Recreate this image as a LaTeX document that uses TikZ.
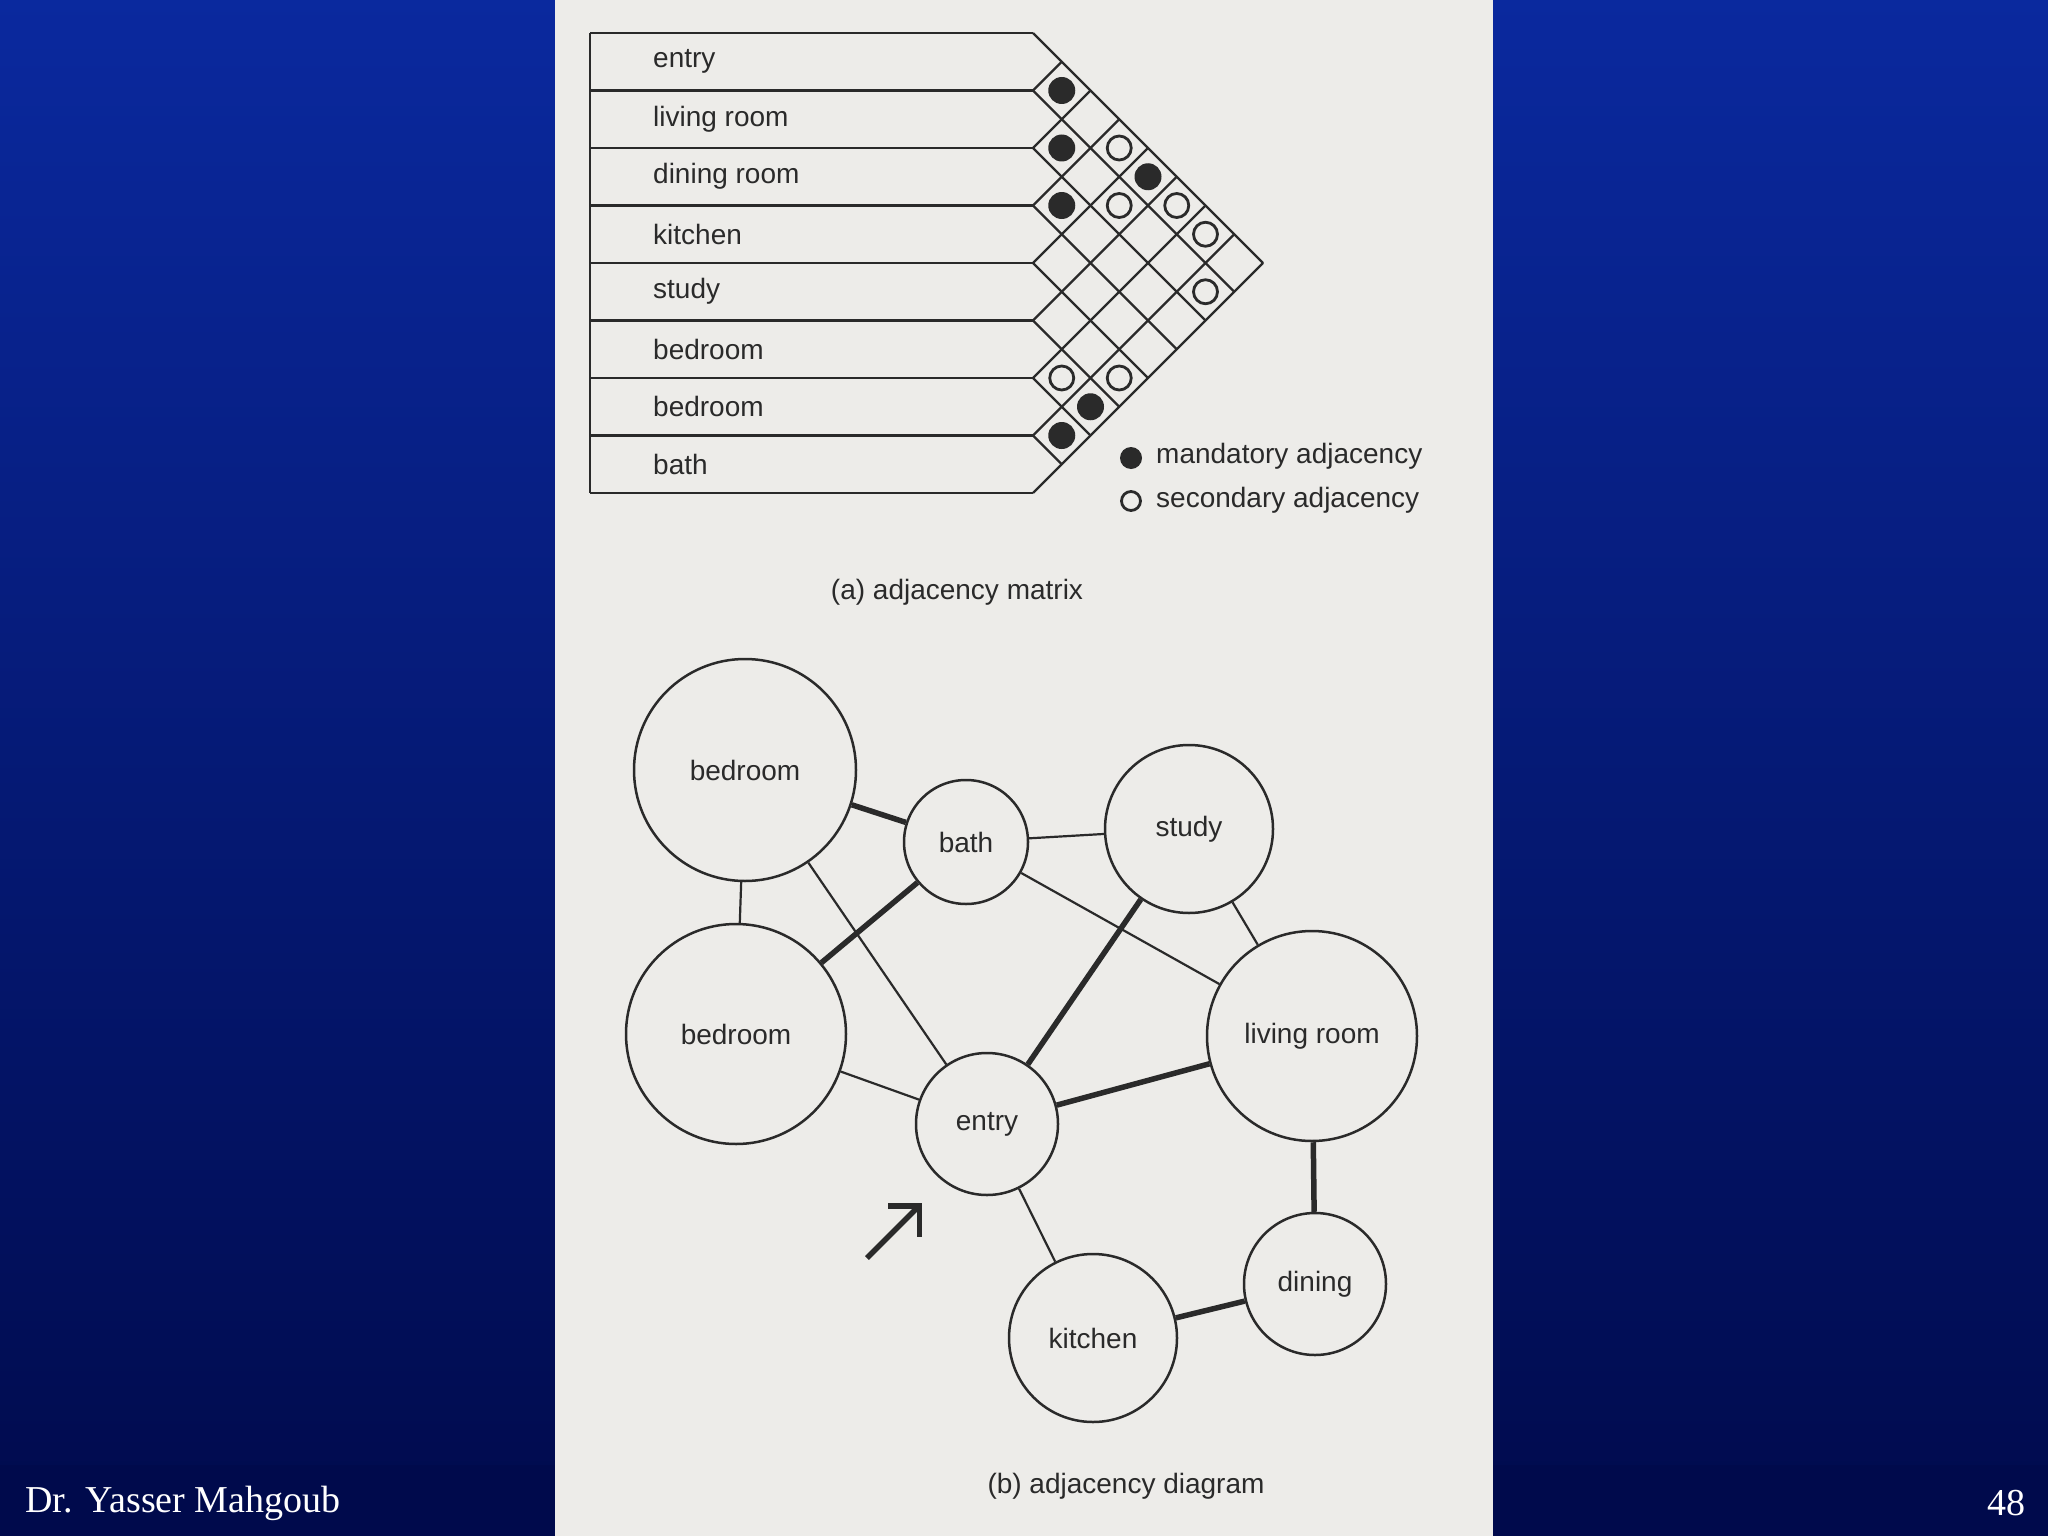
\documentclass[tikz,border=0pt]{standalone}
\usepackage{fontspec}
\setmainfont{Liberation Serif}
\newfontfamily\lab{Liberation Sans}
\usetikzlibrary{arrows.meta}
\definecolor{bgtop}{rgb}{0.04,0.16,0.62}
\definecolor{bgbot}{rgb}{0.0,0.04,0.30}
\definecolor{paper}{HTML}{EDECE9}
\definecolor{ink}{HTML}{2A2A2A}
\tikzset{
  room/.style={circle,draw=ink,line width=2.5pt,fill=paper,font=\lab\fontsize{28}{28}\selectfont,text=ink,inner sep=0pt},
  conthin/.style={draw=ink,line width=2.2pt},
  conthick/.style={draw=ink,line width=5.5pt},
  rowlab/.style={anchor=west,font=\lab\fontsize{28}{28}\selectfont,text=ink,inner sep=0pt},
  gridln/.style={draw=ink,line width=2.3pt},
  fdot/.style={fill=ink},
  odot/.style={draw=ink,line width=2.8pt,fill=paper},
  captxt/.style={font=\lab\fontsize{28}{28}\selectfont,text=ink,inner sep=0pt}
}
\begin{document}
\begin{tikzpicture}[x=1pt,y=-1pt]
\useasboundingbox (0,0) rectangle (2048,1536);
\shade[top color=bgtop,bottom color=bgbot] (0,0) rectangle (2048,1536);
\fill[bgbot] (0,1465) rectangle (2048,1536);
\fill[paper] (555,0) rectangle (1493,1536);
% matrix
\def\bz{33}\def\hh{57.5}\def\xz{1033}
\draw[gridln] (590,\bz) -- (590,\bz+8*\hh);
\foreach \k in {0,...,8}{
  \draw[gridln] (590,\bz+\k*\hh) -- (\xz,\bz+\k*\hh);
  \pgfmathsetmacro{\dn}{(8-\k)*\hh/2}
  \pgfmathsetmacro{\up}{\k*\hh/2}
  \draw[gridln] (\xz,\bz+\k*\hh) -- ++(\dn,\dn);
  \draw[gridln] (\xz,\bz+\k*\hh) -- ++(\up,-\up);
}
\foreach \t [count=\i] in {entry,living room,dining room,kitchen,study,bedroom,bedroom,bath}
  \node[rowlab] (r\i) at (653,\bz+\i*\hh-\hh/2) {\t};
\foreach \i/\j in {1/2,2/3,1/5,3/4,6/8,7/8}
  \fill[fdot] (\xz+\j*\hh/2-\i*\hh/2, \bz+\i*\hh/2+\j*\hh/2-\hh/2) circle (13.5);
\foreach \i/\j in {1/4,2/5,1/6,1/7,2/8,6/7,5/8}
  \draw[odot] (\xz+\j*\hh/2-\i*\hh/2, \bz+\i*\hh/2+\j*\hh/2-\hh/2) circle (12);
\fill[fdot] (1131,458) circle (11);
\draw[odot] (1131,501) circle (9.5);
\node[rowlab] (lm) at (1156,456) {mandatory adjacency};
\node[rowlab] (ls) at (1156,500) {secondary adjacency};
\node[captxt] (ca) at (957,592) {(a) adjacency matrix};
% diagram
\node[room,minimum size=222] (bt) at (745,770) {bedroom};
\node[room,minimum size=124] (ba) at (966,842) {bath};
\node[room,minimum size=168] (st) at (1189,829) {study};
\node[room,minimum size=220] (bl) at (736,1034) {bedroom};
\node[room,minimum size=210] (lv) at (1312,1036) {living room};
\node[room,minimum size=142] (en) at (987,1124) {entry};
\node[room,minimum size=142] (di) at (1315,1284) {dining};
\node[room,minimum size=168] (ki) at (1093,1338) {kitchen};
\draw[conthick] (bt) -- (ba);
\draw[conthick] (bl) -- (ba);
\draw[conthin] (bt) -- (bl);
\draw[conthin] (bt) -- (en);
\draw[conthin] (ba) -- (st);
\draw[conthin] (ba) -- (lv);
\draw[conthick] (st) -- (en);
\draw[conthin] (st) -- (lv);
\draw[conthin] (bl) -- (en);
\draw[conthick] (en) -- (lv);
\draw[conthin] (en) -- (ki);
\draw[conthick] (lv) -- (di);
\draw[conthick] (ki) -- (di);
\coordinate (a1) at (867,1258);
\coordinate (a2) at (922,1203);
\draw[ink,line width=5.5pt,-{Straight Barb[length=22pt,width=44pt]}] (a1) -- (a2);
\node[captxt] (cb) at (1126,1486) {(b) adjacency diagram};
% footer
\node[text=white,font=\fontsize{38}{38}\selectfont,inner sep=0pt] (f1) at (183,1503) {Dr. Yasser Mahgoub};
\node[text=white,font=\fontsize{38}{38}\selectfont,inner sep=0pt] (f2) at (2006,1503) {48};
\end{tikzpicture}
\end{document}
